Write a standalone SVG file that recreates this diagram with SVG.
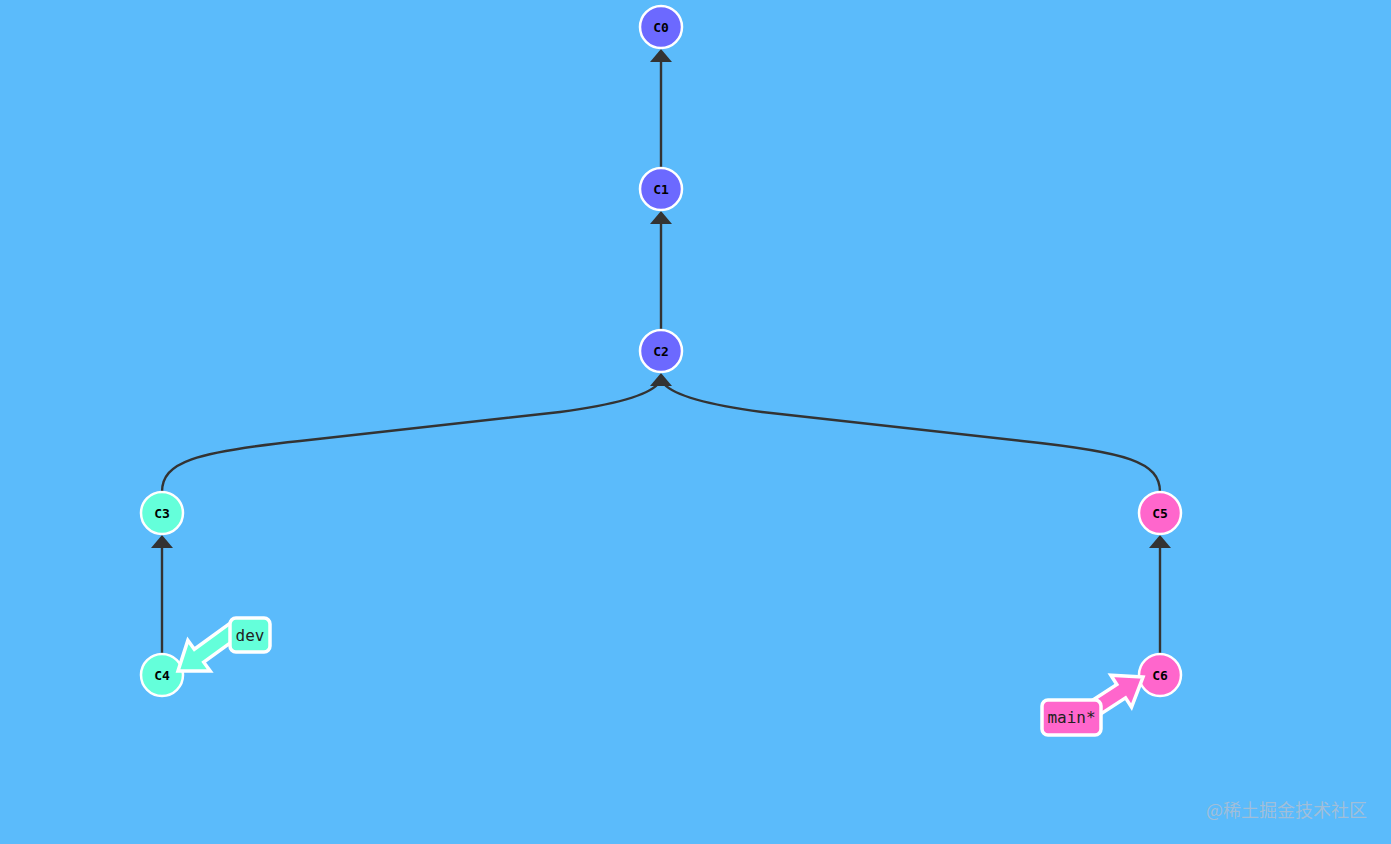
<svg xmlns="http://www.w3.org/2000/svg" width="1391" height="844" viewBox="0 0 1391 844">
<style>
.edge{fill:none;stroke:#333333;stroke-width:2.4}
.head{fill:#333333}
.node{stroke:#ffffff;stroke-width:2.5}
.c-main{fill:#6c69ff}
.c-dev{fill:#64ffda}
.c-feat{fill:#ff66cc}
.nt{font-family:"DejaVu Sans Mono",monospace;font-weight:bold;font-size:13px;fill:#000;text-anchor:middle;dominant-baseline:central}
.lb{stroke:#ffffff;stroke-width:3.5}
.lt{font-family:"DejaVu Sans Mono",monospace;font-size:16px;fill:#222;text-anchor:middle;dominant-baseline:central}
.wm{font-family:"Noto Sans CJK SC","Noto Sans",sans-serif;font-size:18px;fill:#aebfd2;fill-opacity:0.85}
</style>
<rect width="1391" height="844" fill="#5bbbfb"/>
<g id="connectors">
<line class="edge" x1="661" y1="168" x2="661" y2="60"/>
<polygon class="head" points="661,49 650,62 672,62"/>
<line class="edge" x1="661" y1="330" x2="661" y2="222"/>
<polygon class="head" points="661,211 650,224 672,224"/>
<path class="edge" d="M162,492 C162,462 195,452 300,441 L560,412 C620,404 648,395 658,384"/>
<path class="edge" d="M1160,492 C1160,462 1127,452 1022,441 L762,412 C702,404 674,395 664,384"/>
<polygon class="head" points="661,373 650,386 672,386"/>
<line class="edge" x1="162" y1="654" x2="162" y2="546"/>
<polygon class="head" points="162,535 151,548 173,548"/>
<line class="edge" x1="1160" y1="654" x2="1160" y2="546"/>
<polygon class="head" points="1160,535 1149,548 1171,548"/>
</g>
<g id="C0"><circle class="node c-main" cx="661" cy="27" r="21"/><text class="nt" x="661" y="27">C0</text></g>
<g id="C1"><circle class="node c-main" cx="661" cy="189" r="21"/><text class="nt" x="661" y="189">C1</text></g>
<g id="C2"><circle class="node c-main" cx="661" cy="351" r="21"/><text class="nt" x="661" y="351">C2</text></g>
<g id="C3"><circle class="node c-dev" cx="162" cy="513" r="21"/><text class="nt" x="162" y="513">C3</text></g>
<g id="C4"><circle class="node c-dev" cx="162" cy="675" r="21"/><text class="nt" x="162" y="675">C4</text></g>
<g id="C5"><circle class="node c-feat" cx="1160" cy="513" r="21"/><text class="nt" x="1160" y="513">C5</text></g>
<g id="C6"><circle class="node c-feat" cx="1160" cy="675" r="21"/><text class="nt" x="1160" y="675">C6</text></g>
<g id="dev">
<polygon class="lb c-dev" transform="translate(178,671) rotate(144)" points="0,0 -26,-19 -26,-8 -72,-8 -72,8 -26,8 -26,19"/>
<rect class="lb c-dev" x="230" y="618" width="40" height="34" rx="6"/>
<text class="lt" x="250" y="635">dev</text>
</g>
<g id="main">
<polygon class="lb c-feat" transform="translate(1143,677) rotate(-33)" points="0,0 -26,-19 -26,-8 -72,-8 -72,8 -26,8 -26,19"/>
<rect class="lb c-feat" x="1042" y="700" width="59" height="35" rx="6"/>
<text class="lt" x="1071.5" y="717.5">main*</text>
</g>
<text class="wm" x="1206" y="817">@稀土掘金技术社区</text>
</svg>
